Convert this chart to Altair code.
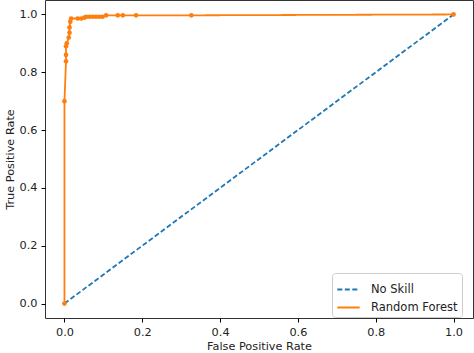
import altair as alt
import pandas as pd

# Data
rf_fpr = [0.0, 0.0, 0.004, 0.004, 0.004, 0.006, 0.011, 0.013, 0.013, 0.015, 0.017,
          0.034, 0.043, 0.051, 0.056, 0.064, 0.073, 0.081, 0.090, 0.098, 0.107,
          0.137, 0.150, 0.184, 0.326, 1.0]
rf_tpr = [0.0, 0.70, 0.838, 0.86, 0.89, 0.90, 0.92, 0.937, 0.955, 0.975, 0.986,
          0.986, 0.986, 0.989, 0.992, 0.992, 0.992, 0.992, 0.992, 0.992, 0.997,
          0.997, 0.997, 0.997, 0.997, 1.0]
ns_fpr = [0.0, 1.0]
ns_tpr = [0.0, 1.0]
series_names = ["No Skill", "Random Forest"]
ticks = [0.0, 0.2, 0.4, 0.6, 0.8, 1.0]

rows = []
for i, (x, y) in enumerate(zip(ns_fpr, ns_tpr)):
    rows.append({"series": series_names[0], "fpr": x, "tpr": y, "idx": i})
for i, (x, y) in enumerate(zip(rf_fpr, rf_tpr)):
    rows.append({"series": series_names[1], "fpr": x, "tpr": y, "idx": i})
df = pd.DataFrame(rows)

font = "DejaVu Sans"

def axis(title, tpad):
    return alt.Axis(title=title, values=ticks, format=".1f",
                    grid=False, domain=False, tickSize=4, tickColor="black",
                    labelPadding=4, titlePadding=tpad, labelFontSize=11.3,
                    titleFontSize=11.3, labelFont=font, titleFont=font,
                    titleFontWeight="normal", labelColor="#222222", titleColor="#222222")

xenc = alt.X("fpr:Q", scale=alt.Scale(domain=[-0.05, 1.05], nice=False, zero=False),
             axis=axis("False Positive Rate", 3))
yenc = alt.Y("tpr:Q", scale=alt.Scale(domain=[-0.05, 1.05], nice=False, zero=False),
             axis=axis("True Positive Rate", 4))

def legend():
    return alt.Legend(title=None, orient="none", legendX=287, legendY=273,
                      symbolType="stroke", symbolSize=500,
                      symbolStrokeWidth=1.8, labelFontSize=11.5,
                      labelFont=font, labelColor="#222222",
                      fillColor="white", strokeColor="#cccccc",
                      cornerRadius=3, padding=4, rowPadding=0,
                      labelOffset=10)

color = alt.Color("series:N",
                  scale=alt.Scale(domain=series_names, range=["#1f77b4", "#ff7f0e"]),
                  legend=legend())
dash = alt.StrokeDash("series:N",
                      scale=alt.Scale(domain=series_names, range=[[5, 2.5], [1, 0]]),
                      legend=legend())

lines = alt.Chart(df).mark_line(strokeWidth=1.8).encode(
    x=xenc, y=yenc, color=color, strokeDash=dash, order="idx:Q", detail="series:N"
)

pts = alt.Chart(df).transform_filter(
    alt.datum.series == "Random Forest"
).mark_circle(size=22, opacity=1, color="#ff7f0e").encode(
    x="fpr:Q", y="tpr:Q"
)

chart = alt.layer(lines, pts).properties(
    width=428, height=318,
    padding={"left": 45, "top": 0, "right": 1, "bottom": 35},
    autosize=alt.AutoSizeParams(type="none"),
    background="white",
).configure_view(stroke="#333333", strokeWidth=1)

chart.save("out.html", embed_options={"renderer": "svg", "actions": False})
